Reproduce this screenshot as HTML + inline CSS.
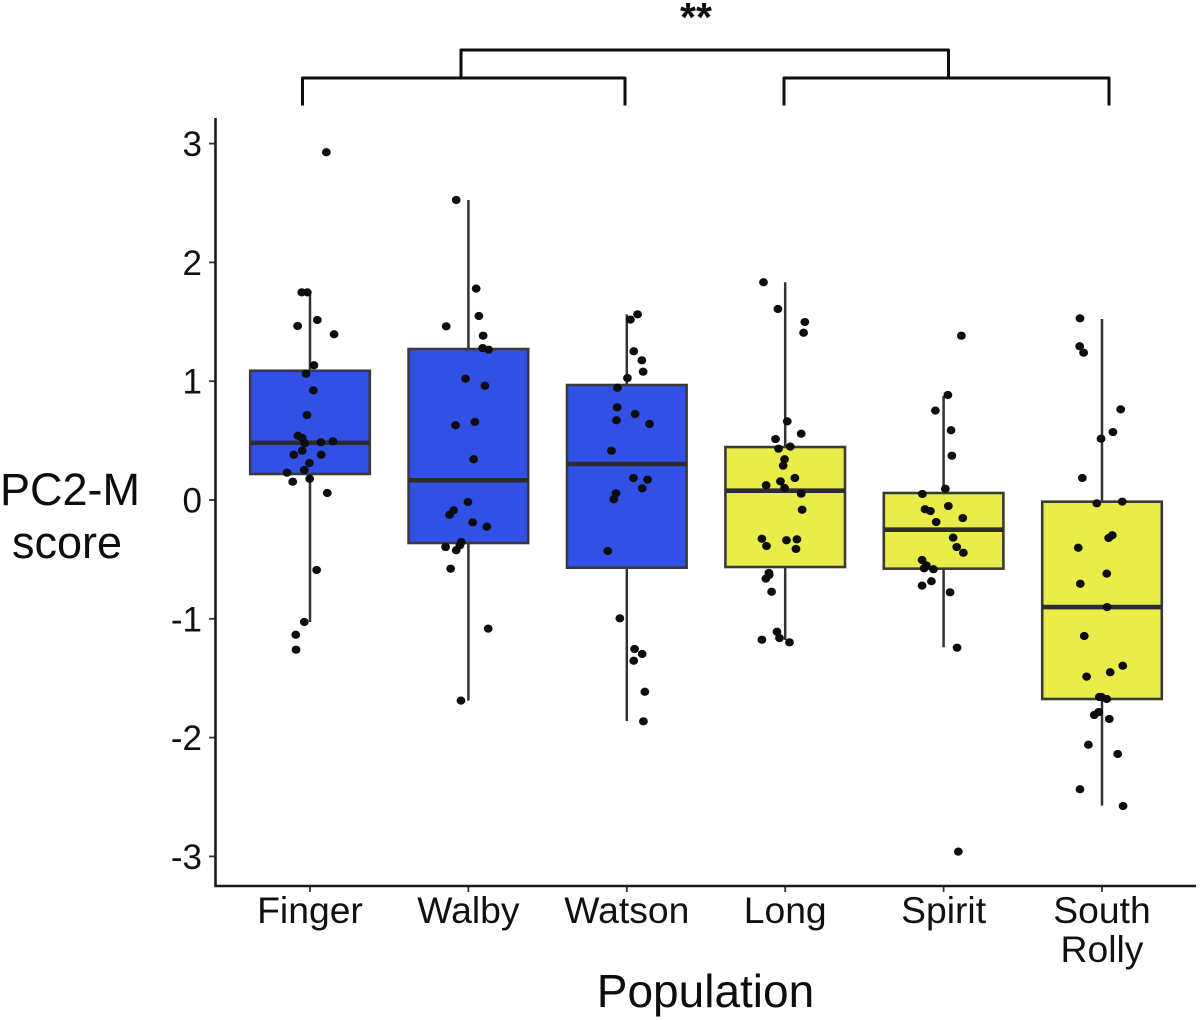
<!DOCTYPE html>
<html lang="en">
<head>
<meta charset="utf-8">
<title>PC2-M score by population</title>
<style>
  html, body { margin: 0; padding: 0; background: #fff; }
  svg { display: block; font-family: "Liberation Sans", sans-serif; }
</style>
</head>
<body>
<svg id="chart" xmlns="http://www.w3.org/2000/svg" width="1200" height="1020" viewBox="0 0 1200 1020">
  <rect x="0" y="0" width="1200" height="1020" fill="#ffffff"/>
  <g id="boxes"></g>
  <g id="points"></g>
  <g id="axes"></g>
  <g fill="none" stroke="#0d0d0d" stroke-width="3" stroke-linejoin="round">
    <path d="M302.5 105.5V78H625V105.5"/>
    <path d="M784 105.5V78H1109V105.5"/>
    <path d="M461 78V50H948.5V78"/>
  </g>
  <text x="696" y="31" font-size="41" font-weight="bold" text-anchor="middle" fill="#0d0d0d">**</text>
  <text x="70" y="505" font-size="45" text-anchor="middle" fill="#0d0d0d">PC2-M</text>
  <text x="67" y="558" font-size="45" text-anchor="middle" fill="#0d0d0d">score</text>
  <text x="705.5" y="1007" font-size="46" text-anchor="middle" fill="#0d0d0d">Population</text>
</svg>
<script>
const categories = [["Finger"], ["Walby"], ["Watson"], ["Long"], ["Spirit"], ["South", "Rolly"]];
const groupColors = ["#3050e6", "#3050e6", "#3050e6", "#e9ed4a", "#e9ed4a", "#e9ed4a"];
const yTicks = [-3, -2, -1, 0, 1, 2, 3];
const q1Values = [0.219, -0.362, -0.570, -0.564, -0.578, -1.675];
const medianValues = [0.482, 0.166, 0.303, 0.078, -0.250, -0.901];
const q3Values = [1.088, 1.271, 0.968, 0.446, 0.059, -0.014];
const whiskerLow = [-1.027, -1.689, -1.860, -1.178, -1.240, -2.573];
const whiskerHigh = [1.751, 2.525, 1.563, 1.833, 0.875, 1.524];

const fingerValues = [2.927,1.748,1.748,1.515,1.465,1.395,1.134,1.063,0.923,0.715,0.541,0.522,0.477,0.486,0.494,0.415,0.381,0.381,0.311,0.253,0.230,0.179,0.154,0.059,-0.589,-1.027,-1.134,-1.260];
const fingerJitter = [0.103,-0.052,-0.017,0.046,-0.078,0.152,0.025,-0.025,0.021,-0.019,-0.076,-0.049,-0.033,0.069,0.145,-0.049,-0.103,0.071,-0.004,-0.036,-0.145,-0.002,-0.109,0.109,0.042,-0.036,-0.090,-0.088];
const walbyValues = [2.525,1.779,1.549,1.462,1.383,1.279,1.265,1.021,0.962,0.629,0.657,0.343,-0.017,-0.087,-0.124,-0.188,-0.225,-0.354,-0.381,-0.396,-0.423,-0.578,-1.083,-1.689];
const walbyJitter = [-0.077,0.049,0.066,-0.140,0.093,0.090,0.128,-0.018,0.104,-0.081,0.041,0.033,-0.003,-0.093,-0.119,0.027,0.117,-0.045,-0.054,-0.144,-0.077,-0.112,0.125,-0.047];
const watsonValues = [1.563,1.518,1.252,1.176,1.080,1.027,0.945,0.780,0.724,0.671,0.640,0.415,0.185,0.171,0.098,0.056,0.006,-0.429,-0.996,-1.254,-1.296,-1.353,-1.614,-1.863];
const watsonJitter = [0.068,0.023,0.044,0.095,0.103,0.004,-0.059,-0.061,0.052,-0.065,0.143,-0.097,0.042,0.131,0.097,-0.068,-0.082,-0.120,-0.044,0.049,0.097,0.044,0.114,0.105];
const longValues = [1.833,1.608,1.498,1.408,0.662,0.558,0.513,0.432,0.449,0.343,0.289,0.185,0.157,0.124,0.101,0.053,-0.082,-0.326,-0.387,-0.339,-0.331,-0.412,-0.614,-0.631,-0.662,-0.772,-1.109,-1.162,-1.176,-1.198];
const longJitter = [-0.137,-0.046,0.124,0.116,0.013,0.101,-0.061,-0.042,0.032,-0.004,-0.013,0.061,-0.030,-0.120,-0.004,0.101,0.107,-0.147,-0.118,0.008,0.074,0.068,-0.103,-0.101,-0.122,-0.086,-0.052,-0.036,-0.147,0.027];
const spiritValues = [1.383,0.884,0.752,0.587,0.373,0.095,0.051,-0.051,-0.078,-0.093,-0.152,-0.185,-0.317,-0.396,-0.444,-0.505,-0.550,-0.575,-0.583,-0.684,-0.721,-0.777,-1.243,-2.960];
const spiritJitter = [0.112,0.027,-0.052,0.047,0.052,0.011,-0.134,0.030,-0.117,-0.083,0.121,-0.047,0.060,0.083,0.125,-0.136,-0.109,-0.123,-0.064,-0.077,-0.136,0.041,0.085,0.093];
const southRollyValues = [1.529,1.294,1.240,0.763,0.572,0.516,0.185,-0.028,-0.014,-0.297,-0.320,-0.402,-0.620,-0.705,-0.901,-1.145,-1.395,-1.450,-1.487,-1.658,-1.658,-1.675,-1.785,-1.810,-1.843,-2.060,-2.138,-2.435,-2.576];
const southRollyJitter = [-0.139,-0.141,-0.116,0.118,0.069,-0.006,-0.124,-0.033,0.128,0.065,0.042,-0.150,0.030,-0.137,0.032,-0.112,0.131,0.052,-0.097,-0.017,-0.004,0.030,-0.021,-0.049,0.046,-0.086,0.099,-0.139,0.133];

const pointValues = [fingerValues, walbyValues, watsonValues, longValues, spiritValues, southRollyValues];
const pointJitter = [fingerJitter, walbyJitter, watsonJitter, longJitter, spiritJitter, southRollyJitter];

const SVG_NS = "http://www.w3.org/2000/svg";
const BOX_WIDTH = 0.755;

function xScale(position) { return 310 + 158.4 * position; }
function yScale(value) { return 500 - 118.8 * value; }

function make(parent, tag, attrs) {
  const el = document.createElementNS(SVG_NS, tag);
  for (const key in attrs) { el.setAttribute(key, attrs[key]); }
  parent.appendChild(el);
  return el;
}

const boxesLayer = document.getElementById("boxes");
const pointsLayer = document.getElementById("points");
const axesLayer = document.getElementById("axes");

categories.forEach(function (labelLines, i) {
  const cx = xScale(i);
  const left = xScale(i - BOX_WIDTH / 2);
  const right = xScale(i + BOX_WIDTH / 2);

  const whisker = make(boxesLayer, "line", { x1: cx, x2: cx, y1: yScale(whiskerHigh[i]), y2: yScale(whiskerLow[i]), stroke: "#333", "stroke-width": 2.5 });
  
  

  const box = make(boxesLayer, "rect", { x: left, y: yScale(q3Values[i]), width: right - left, height: yScale(q1Values[i]) - yScale(q3Values[i]), fill: groupColors[i], stroke: "#3a3a3a", "stroke-width": 2.6 });
  
  

  const median = make(boxesLayer, "line", { x1: left, x2: right, y1: yScale(medianValues[i]), y2: yScale(medianValues[i]), stroke: "#2d2d2d", "stroke-width": 4.6 });
  
  

  pointValues[i].forEach(function (value, j) {
    const dot = make(pointsLayer, "ellipse", { cx: xScale(i + pointJitter[i][j]), cy: yScale(value), rx: 4.4, ry: 4.1, fill: "#0d0d0d" });
    
    
  });

  const tick = make(axesLayer, "line", { x1: cx, x2: cx, y1: 886, y2: 892, stroke: "#333", "stroke-width": 1.8 });
  
  

  labelLines.forEach(function (line, k) {
    const label = make(axesLayer, "text", { x: cx, y: 923 + k * 39, "font-size": 37.3, "text-anchor": "middle", fill: "#111" });
    label.textContent = line;
    
    
  });
});

yTicks.forEach(function (value) {
  const py = yScale(value);
  const tick = make(axesLayer, "line", { x1: 209, x2: 215.5, y1: py, y2: py, stroke: "#333", "stroke-width": 1.8 });
  
  

  const label = make(axesLayer, "text", { x: 202, y: py + 12.5, "font-size": 35, "text-anchor": "end", fill: "#111" });
  label.textContent = String(value);
  
  
});

const yAxisLine = make(axesLayer, "line", { x1: 215.5, x2: 215.5, y1: 118, y2: 887, stroke: "#1a1a1a", "stroke-width": 2.6 });



const xAxisLine = make(axesLayer, "line", { x1: 214.5, x2: 1196, y1: 886, y2: 886, stroke: "#1a1a1a", "stroke-width": 2.6 });


</script>
</body>
</html>
